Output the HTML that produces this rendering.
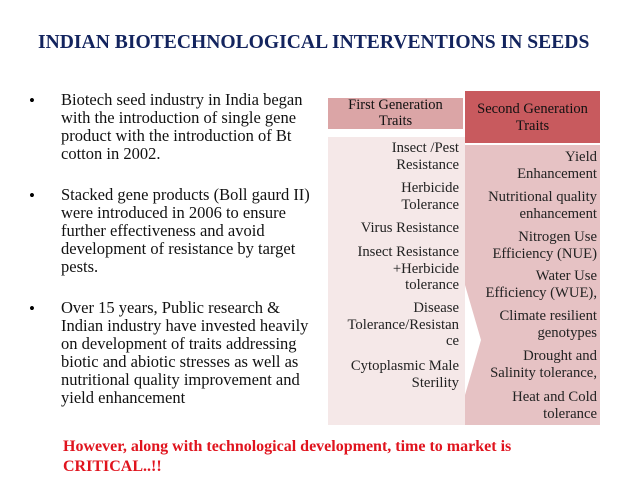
<!DOCTYPE html>
<html><head><meta charset="utf-8"><style>
body{margin:0;width:638px;height:478px;background:#fff;position:relative;overflow:hidden;font-family:"Liberation Serif",serif}
.a{position:absolute;white-space:nowrap}
.t{left:38px;top:32px;font-weight:bold;font-size:19.6px;color:#13245e}
.b{left:61px;font-size:16.5px;color:#111;line-height:18px}
.d{left:29px;font-size:17px}
.L{right:179px;text-align:right;font-size:14.7px;line-height:16.6px;color:#222}
.R{right:41px;text-align:right;font-size:14.7px;line-height:16.6px;color:#222}
.r{left:63px;font-weight:bold;font-size:16px;color:#e0141e;line-height:20px}
</style></head><body>
<div class="a t">INDIAN BIOTECHNOLOGICAL INTERVENTIONS IN SEEDS</div>

<div class="a d" style="top:91px">•</div>
<div class="a b" style="top:91px">Biotech seed industry in India began<br>with the introduction of single gene<br>product with the introduction of Bt<br>cotton in 2002.</div>
<div class="a d" style="top:186px">•</div>
<div class="a b" style="top:186px">Stacked gene products (Boll gaurd II)<br>were introduced in 2006 to ensure<br>further effectiveness and avoid<br>development of resistance by target<br>pests.</div>
<div class="a d" style="top:299px">•</div>
<div class="a b" style="top:299px">Over 15 years, Public research &amp;<br>Indian industry have invested heavily<br>on development of traits addressing<br>biotic and abiotic stresses as well as<br>nutritional quality improvement and<br>yield enhancement</div>

<svg class="a" style="left:0;top:0" width="638" height="478">
<rect x="328" y="137" width="137" height="288" fill="#f5e8e8"/>
<polygon points="465,145 600,145 600,425 465,425 465,395 481,340 465,285" fill="#e6c2c4"/>
<rect x="328" y="98" width="135" height="31" fill="#dba5a6"/>
<rect x="465" y="91" width="135" height="52" fill="#c85a5e"/>
</svg>
<div class="a" style="left:328px;top:97px;width:135px;text-align:center;font-size:14.5px;line-height:16px;color:#111">First Generation<br>Traits</div>
<div class="a" style="left:465px;top:101px;width:135px;text-align:center;font-size:14.5px;line-height:17px;color:#111">Second Generation<br>Traits</div>

<div class="a L" style="top:140px">Insect /Pest<br>Resistance</div>
<div class="a L" style="top:180px">Herbicide<br>Tolerance</div>
<div class="a L" style="top:220px">Virus Resistance</div>
<div class="a L" style="top:244px">Insect Resistance<br>+Herbicide<br>tolerance</div>
<div class="a L" style="top:300px">Disease<br>Tolerance/Resistan<br>ce</div>
<div class="a L" style="top:358px">Cytoplasmic Male<br>Sterility</div>

<div class="a R" style="top:149px">Yield<br>Enhancement</div>
<div class="a R" style="top:189px">Nutritional quality<br>enhancement</div>
<div class="a R" style="top:229px">Nitrogen Use<br>Efficiency (NUE)</div>
<div class="a R" style="top:268px">Water Use<br>Efficiency (WUE),</div>
<div class="a R" style="top:308px">Climate resilient<br>genotypes</div>
<div class="a R" style="top:348px">Drought and<br>Salinity tolerance,</div>
<div class="a R" style="top:389px">Heat and Cold<br>tolerance</div>

<div class="a r" style="top:437px">However, along with technological development, time to market is<br>CRITICAL..!!</div>
</body></html>
